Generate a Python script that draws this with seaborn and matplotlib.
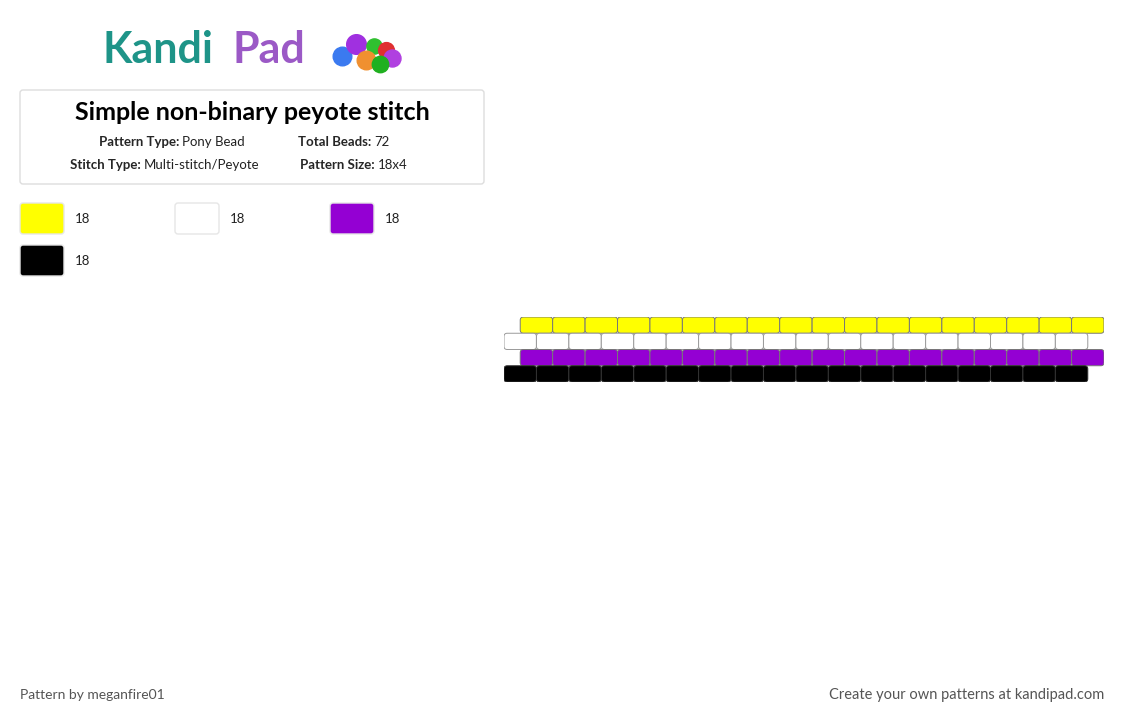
import matplotlib
matplotlib.use("Agg")
import matplotlib.pyplot as plt
from matplotlib.patches import FancyBboxPatch
import seaborn as sns
import numpy as np

sns.set_style("white")
plt.rcParams['font.family'] = ['Lato', 'DejaVu Sans']

title = "Simple non-binary peyote stitch"
row_colors = ["#ffff00", "#ffffff", "#9400d3", "#000000"]
row_offsets = [0.5, 0.0, 0.5, 0.0]
beads_per_row = [18, 18, 18, 18]
legend_colors = ["#ffff00", "#ffffff", "#9400d3", "#000000"]
legend_counts = [18, 18, 18, 18]

W, H = 1124, 720
fig = plt.figure(figsize=(W/100, H/100), dpi=100)
bg = fig.add_axes([0, 0, 1, 1])
bg.set_xlim(0, W); bg.set_ylim(H, 0); bg.axis("off")
renderer = fig.canvas.get_renderer()

# logo
bg.text(102, 50, "Kandi", color="#1e9488", fontsize=31, fontweight="bold", va="center", ha="left")
bg.text(232, 50, "Pad", color="#9b59c6", fontsize=31, fontweight="bold", va="center", ha="left")
for (cx, cy, c, s) in [(342, 56, "#3b7af0", 180), (356, 44, "#a030e0", 200), (374, 46, "#30c030", 120),
                       (366, 60, "#f09030", 180), (386, 50, "#e03030", 130), (392, 58, "#b040e0", 150),
                       (380, 64, "#20b020", 140)]:
    bg.scatter([cx], [cy], s=s, color=c, marker="o", zorder=3)

# info box
bg.add_patch(FancyBboxPatch((20, 90), 464, 94, boxstyle="round,pad=0,rounding_size=3",
                            fc="white", ec="#dddddd", lw=1))
bg.text(252, 112, title, fontsize=18, fontweight="bold", ha="center", va="center", color="black")
inv = bg.transData.inverted()
def kv(x, y, k, v):
    t = bg.text(x, y, k, fontsize=9.5, fontweight="bold", ha="left", va="center")
    bb = t.get_window_extent(renderer)
    x1 = inv.transform((bb.x1, bb.y0))[0]
    bg.text(x1 + 3, y, v, fontsize=9.5, ha="left", va="center", color="#222222")
kv(99, 142, "Pattern Type:", "Pony Bead")
kv(298, 142, "Total Beads:", str(sum(beads_per_row)))
kv(70, 165, "Stitch Type:", "Multi-stitch/Peyote")
kv(300, 165, "Pattern Size:", "18x4")

# legend swatches
pos = [(20, 203), (175, 203), (330, 203), (20, 245)]
for (x, y), c, n in zip(pos, legend_colors, legend_counts):
    bg.add_patch(FancyBboxPatch((x, y), 44, 31, boxstyle="round,pad=0,rounding_size=3",
                                fc=c, ec="#e6e6e6", lw=1))
    bg.text(x + 55, y + 16, str(n), fontsize=9.5, va="center", color="#222222")

bg.text(20, 695, "Pattern by meganfire01", fontsize=10, color="#555555", va="center")
bg.text(1104, 695, "Create your own patterns at kandipad.com", fontsize=10.5, color="#555555",
        va="center", ha="right")

# bead grid
ax = fig.add_axes([504/W, 1 - 382/H, 600/W, 65/H])
ax.set_xlim(0, 18.5); ax.set_ylim(4, 0); ax.axis("off")
for r, (c, off, n) in enumerate(zip(row_colors, row_offsets, beads_per_row)):
    for i in range(n):
        ec = "#999999" if c == "#ffffff" else ("#333333" if c == "#000000" else "#777777")
        ax.add_patch(FancyBboxPatch((off + i, r), 1.0, 1.0,
                                    boxstyle="round,pad=0,rounding_size=0.1",
                                    fc=c, ec=ec, lw=0.7, mutation_aspect=2))

fig.savefig("out.png", dpi=100, facecolor="white")
